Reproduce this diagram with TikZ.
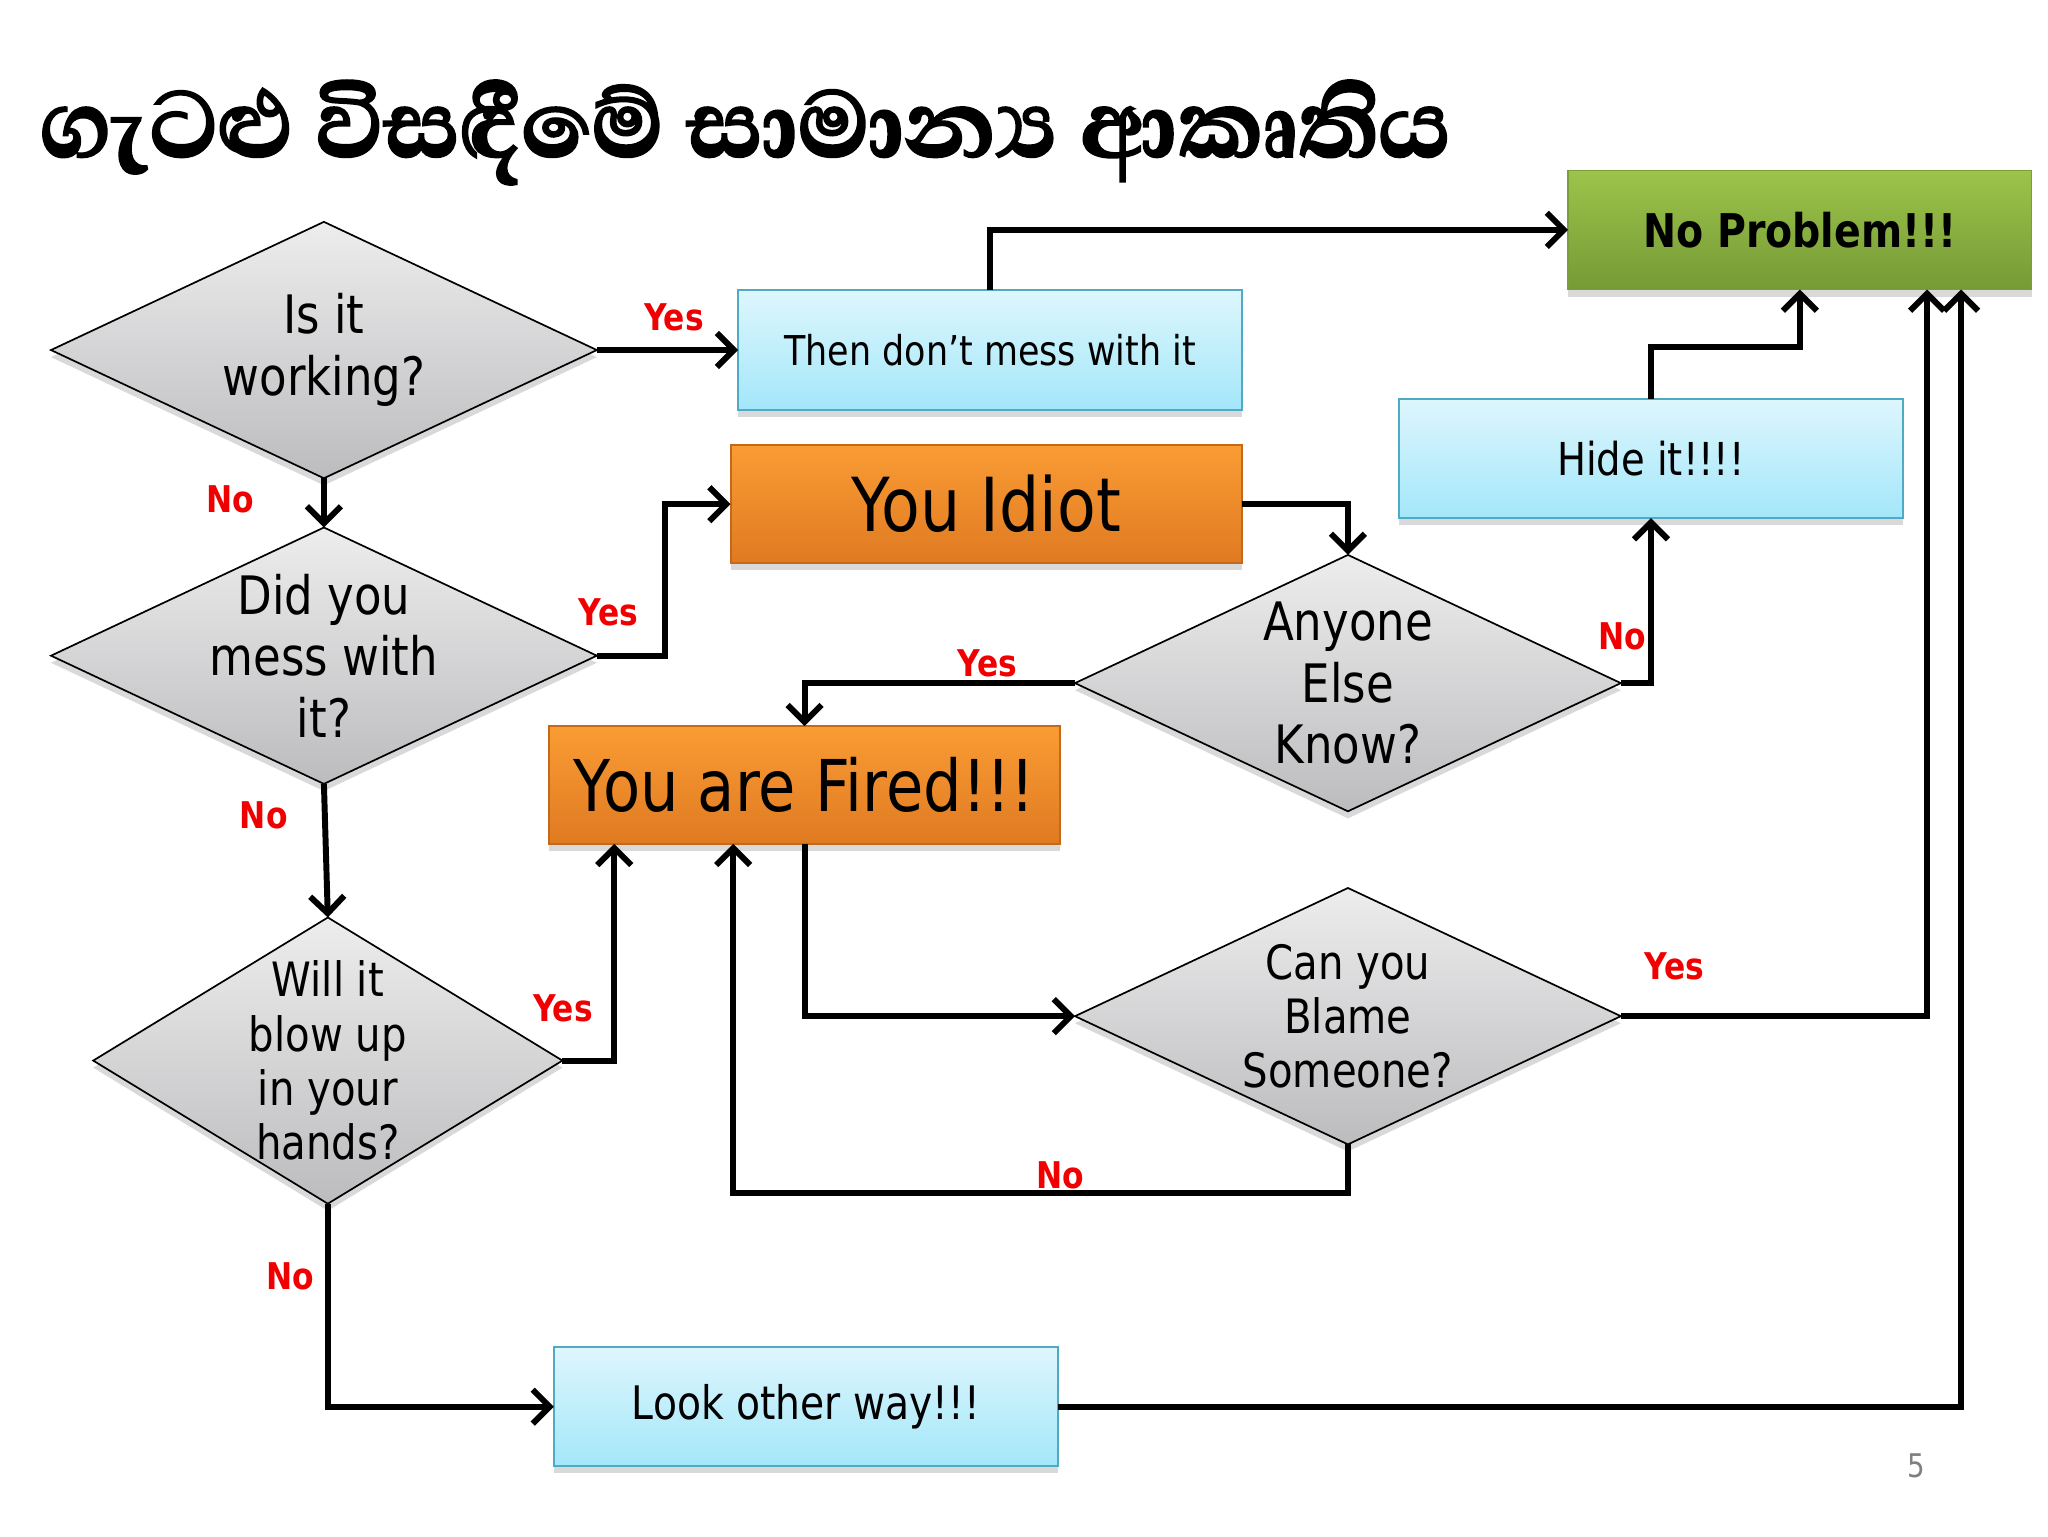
\documentclass[tikz,border=0pt]{standalone}
\usepackage{fontspec}
\setmainfont{DejaVu Sans}[FakeStretch=0.85]
\newfontfamily\sinhalafont[Script=Sinhala, FakeBold=2.5]{Abhaya Libre}
\usetikzlibrary{positioning, arrows.meta, shapes.geometric, shadows, calc}

\definecolor{boxtop}{RGB}{222,246,253}
\definecolor{boxbot}{RGB}{163,231,250}
\definecolor{boxline}{RGB}{80,170,195}
\definecolor{ortop}{RGB}{250,156,52}
\definecolor{orbot}{RGB}{224,122,34}
\definecolor{orline}{RGB}{196,104,26}
\definecolor{grtop}{RGB}{156,196,74}
\definecolor{grbot}{RGB}{118,154,54}
\definecolor{dtop}{RGB}{237,237,238}
\definecolor{dbot}{RGB}{188,188,190}
\definecolor{lblred}{RGB}{240,0,0}

\newcommand{\fs}[2]{\fontsize{#1}{#2}\selectfont}

\tikzset{
  line/.style={draw, line width=2.1pt, -{Straight Barb[length=6pt,width=12pt]}},
  shade/.style={drop shadow={shadow xshift=0pt, shadow yshift=-2.5pt, opacity=0.25, fill=black!60}},
  bluebox/.style={rectangle, draw=boxline, line width=0.7pt, top color=boxtop, bottom color=boxbot,
    minimum width=62.5mm, minimum height=14.8mm, inner sep=0pt, outer sep=0pt, shade,
    font=\fs{16}{19}},
  orbox/.style={rectangle, draw=orline, line width=0.7pt, top color=ortop, bottom color=orbot,
    minimum width=63.4mm, minimum height=14.6mm, inner sep=0pt, outer sep=0pt, shade,
    font=\fs{25.2}{29}},
  grbox/.style={rectangle, draw=grtop!80!black, line width=0.5pt, top color=grtop, bottom color=grbot,
    minimum width=57.5mm, minimum height=14.8mm, inner sep=0pt, outer sep=0pt, shade,
    font=\bfseries\fs{16.4}{19}},
  decision/.style={diamond, draw=black, line width=0.6pt, top color=dtop, bottom color=dbot,
    minimum width=67.7mm, minimum height=31.8mm, inner sep=0pt, outer sep=0pt, shade},
  dtext/.style={align=center, font=\fs{18.7}{21.7}},
  dsmall/.style={align=center, font=\fs{16.7}{19.2}},
  lbl/.style={text=lblred, font=\bfseries\fs{13}{15}},
}

\begin{document}
\begin{tikzpicture}[x=0.162mm, y=-0.162mm]
\useasboundingbox (0,0) rectangle (1568,1176);

% title
\node[anchor=base west, inner sep=0pt, font=\sinhalafont\bfseries\fs{42}{46}] (title) at (30,120)
  {ගැටළු විසඳීමේ සාමාන්^^^^200dය ආකෘතිය};

% questions
\node[decision] (work) at (248,268) {};
\node[dtext] (work-q) at (work) {Is it\\working?};
\node[decision] (mess) at (248,502) {};
\node[dtext] (mess-q) at (mess) {Did you\\mess with\\it?};
\node[decision, minimum width=58.2mm, minimum height=35.5mm] (blow) at (251,812) {};
\node[dsmall] (blow-q) at (blow) {Will it\\blow up\\in your\\hands?};
\node[decision] (know) at (1032,523) {};
\node[dtext] (know-q) at (know) {Anyone\\Else\\Know?};
\node[decision] (blame) at (1032,778) {};
\node[dsmall] (blame-q) at (blame) {Can you\\Blame\\Someone?};

% answers
\node[bluebox, font=\fs{14.5}{17}] (then) at (758,268) {Then don’t mess with it};
\node[grbox] (noprob) at (1378,176) {No Problem!!!};
\node[orbox, font=\fs{26.3}{30}] (idiot) at (755,386) {You Idiot};
\node[bluebox] (hide) at (1264,351) {Hide it!!!!};
\node[orbox] (fired) at (616,601) {You are Fired!!!};
\node[bluebox, font=\fs{16.3}{19}] (look) at (617,1077) {Look other way!!!};

% connectors
\draw[line] (work.east) -- (then.west);
\draw[line] (work.south) -- (mess.north);
\draw[line] (mess.east) -- ++(52,0) |- (idiot.west);
\draw[line] (then.north) |- (noprob.west);
\draw[line] (idiot.east) -| (know.north);
\draw[line] (know.west) -| (fired.north);
\draw[line] (know.east) -| (hide.south);
\draw[line] (hide.north) -- ++(0,-40) -| (noprob.south);
\draw[line] (mess.south) -- (blow.north);
\draw[line] (blow.east) -| ($(fired.south west)+(50,0)$);
\draw[line] (fired.south) |- (blame.west);
\draw[line] (blame.east) -| ($(noprob.south east)+(-80,0)$);
\draw[line] (blame.south) -- ++(0,37) -| ($(fired.south west)+(141,0)$);
\draw[line] (blow.south) |- (look.west);
\draw[line] (look.east) -| ($(noprob.south east)+(-54,0)$);

% yes / no
\node[lbl] (y1) at (516,243) {Yes};
\node[lbl] (n1) at (176,382) {No};
\node[lbl] (y2) at (466,469) {Yes};
\node[lbl] (n2) at (202,624) {No};
\node[lbl] (y3) at (431,772) {Yes};
\node[lbl] (n3) at (222,977) {No};
\node[lbl] (y4) at (756,508) {Yes};
\node[lbl] (n4) at (1242,487) {No};
\node[lbl] (y5) at (1282,740) {Yes};
\node[lbl] (n5) at (812,900) {No};

\node[text=black!50, font=\fs{11.5}{13}] (page) at (1467,1122) {5};
\end{tikzpicture}
\end{document}
